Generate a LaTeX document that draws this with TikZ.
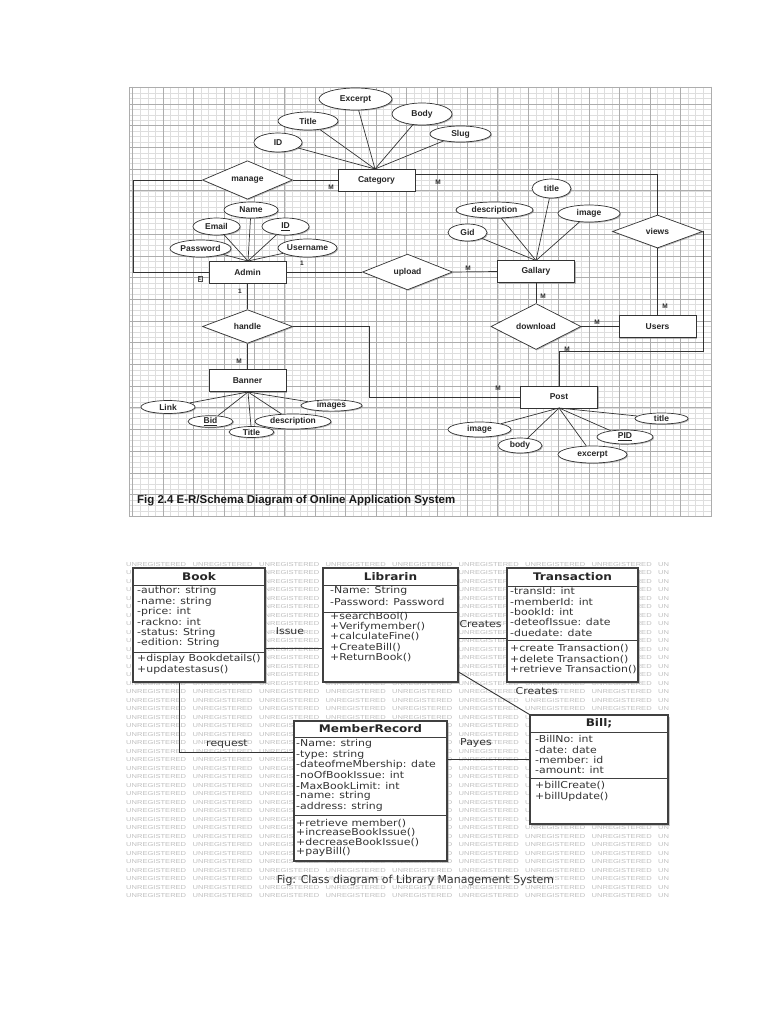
\documentclass[tikz,border=0pt]{standalone}
\usepackage{fontspec}
\setmainfont{Liberation Sans}
\newfontfamily\cdfont{DejaVu Sans}
\usepackage{graphicx}
\usetikzlibrary{shapes.geometric,shadows}
\newcommand\cdt[1]{\scalebox{1.15}[1]{#1}}
\begin{document}
\begin{tikzpicture}[x=1pt,y=-1pt,
  er/.style={font=\bfseries\fontsize{8.5}{9}\selectfont,text=black!85},
  shad/.style={drop shadow={shadow xshift=1pt,shadow yshift=-1pt,fill=black!45,opacity=0.6}},
  entity/.style={er,shad,draw=black!80,line width=0.8pt,fill=white,minimum width=77pt,minimum height=22pt,inner sep=0pt},
  rel/.style={er,shad,diamond,draw=black!80,line width=0.7pt,fill=white,inner sep=0pt,minimum width=90pt,minimum height=33pt},
  attr/.style={er,shad,ellipse,draw=black!80,line width=0.7pt,fill=white,inner sep=0pt},
  erline/.style={draw=black!80,line width=0.7pt},
  card/.style={font=\bfseries\fontsize{6.5}{7}\selectfont,inner sep=0pt,text=black!85},
  gridminor/.style={draw=black!13,line width=0.5pt},
  gridmajor/.style={draw=black!32,line width=0.7pt},
  cls/.style={draw=black!75,line width=1.1pt,fill=white,inner sep=0pt,drop shadow={shadow xshift=1.5pt,shadow yshift=-1.5pt,fill=black!35,opacity=0.6}},
  cdiv/.style={draw=black!75,line width=1pt},
  ctx/.style={font=\cdfont\fontsize{9.5}{10}\selectfont,text=black!80,anchor=west,inner sep=0pt},
  chd/.style={font=\cdfont\bfseries\fontsize{10.5}{11}\selectfont,text=black!85,inner sep=0pt},
  cline/.style={draw=black!80,line width=0.9pt},
  clab/.style={font=\cdfont\fontsize{9.5}{10}\selectfont,text=black!80,inner sep=0pt},
  wm/.style={text=black!25,inner sep=0pt,anchor=west}
]
\fill[white] (0,0) rectangle (768,1024);
\useasboundingbox (0,0) rectangle (768,1024);

% ---------- grid of ER diagram ----------
\foreach \k in {-4,...,72} \draw[gridminor] ({163+7.61*\k},87) -- ({163+7.61*\k},516);
\foreach \k in {-3,...,75} \draw[gridminor] (129,{104+5.425*\k}) -- (711,{104+5.425*\k});
\foreach \k in {-1,...,18} \draw[gridmajor] ({163+30.44*\k},87) -- ({163+30.44*\k},516);
\foreach \k in {0,...,18} \draw[gridmajor] (129,{104+21.7*\k}) -- (711,{104+21.7*\k});
\draw[gridmajor] (129,87) rectangle (711,516);

% ---------- entities ----------
\node[entity] (cat) at (376.5,180) {Category};
\node[entity] (admin) at (247.5,272) {Admin};
\node[entity] (gal) at (536,271.5) {Gallary};
\node[entity] (banner) at (247.5,380.5) {Banner};
\node[entity] (post) at (559,397) {Post};
\node[entity] (users) at (657.5,326.5) {Users};

% ---------- relationships ----------
\node[rel] (manage) at (247.5,180) {manage};
\node[rel] (upload) at (407.5,272) {upload};
\node[rel] (handle) at (247.5,326.5) {handle};
\node[rel] (download) at (536,326.5) {download};
\node[rel] (views) at (657.5,231.5) {views};

% ---------- attributes ----------
\node[attr,minimum width=73pt,minimum height=22pt] (cexc) at (355.5,99) {Excerpt};
\node[attr,minimum width=60pt,minimum height=18pt] (ctit) at (308,121) {Title};
\node[attr,minimum width=48pt,minimum height=19pt] (cid) at (278,142.5) {ID};
\node[attr,minimum width=60pt,minimum height=22pt] (cbod) at (422,114) {Body};
\node[attr,minimum width=61pt,minimum height=16pt] (cslug) at (460.5,134) {Slug};

\node[attr,minimum width=54pt,minimum height=16pt] (aname) at (251,210) {Name};
\node[attr,minimum width=47pt,minimum height=17pt] (aemail) at (216.5,226.5) {Email};
\node[attr,minimum width=47pt,minimum height=17pt] (aid) at (285.5,226.5) {\underline{ID}};
\node[attr,minimum width=61pt,minimum height=17pt] (apass) at (200.5,248.5) {Password};
\node[attr,minimum width=59pt,minimum height=18pt] (auser) at (307.5,248) {Username};

\node[attr,minimum width=39pt,minimum height=19pt] (gtit) at (551.5,188.5) {title};
\node[attr,minimum width=77pt,minimum height=16pt] (gdesc) at (494.5,210) {description};
\node[attr,minimum width=62pt,minimum height=17pt] (gimg) at (589,213.5) {image};
\node[attr,minimum width=39pt,minimum height=17pt] (gid) at (467.5,232.5) {Gid};

\node[attr,minimum width=54pt,minimum height=13pt] (blink) at (168,407) {Link};
\node[attr,minimum width=45pt,minimum height=11pt] (bbid) at (210.5,421.5) {\underline{Bid}};
\node[attr,minimum width=45pt,minimum height=11pt] (btit) at (251.5,432) {Title};
\node[attr,minimum width=76pt,minimum height=15pt] (bdesc) at (293,421.5) {description};
\node[attr,minimum width=61pt,minimum height=11pt] (bimg) at (331.5,405.5) {images};

\node[attr,minimum width=53pt,minimum height=11pt] (ptit) at (661.5,418.5) {title};
\node[attr,minimum width=63pt,minimum height=15pt] (pimg) at (479.5,429.5) {image};
\node[attr,minimum width=44pt,minimum height=15pt] (pbody) at (520,445.5) {body};
\node[attr,minimum width=56pt,minimum height=14pt] (ppid) at (625,437) {\underline{PID}};
\node[attr,minimum width=69pt,minimum height=17pt] (pexc) at (592.5,454.5) {excerpt};

% convergence points
\coordinate (catc) at (375,169);
\coordinate (admc) at (248,261);
\coordinate (galc) at (536,260.5);
\coordinate (banc) at (248,392);
\coordinate (postc) at (559,408);

\foreach \a in {cexc,ctit,cid,cbod,cslug} \draw[erline] (\a) -- (catc);
\foreach \a in {aname,aemail,aid,apass,auser} \draw[erline] (\a) -- (admc);
\foreach \a in {gtit,gdesc,gimg,gid} \draw[erline] (\a) -- (galc);
\foreach \a in {blink,bbid,btit,bdesc,bimg} \draw[erline] (\a) -- (banc);
\foreach \a in {ptit,pimg,pbody,ppid,pexc} \draw[erline] (\a) -- (postc);

% ---------- relationship connectors ----------
\coordinate (ml) at (133,180);
\coordinate (hr) at (369,326.5);
\coordinate (vt) at (657.5,174);
\coordinate (vr) at (703,351);
\draw[erline] (manage.east) -- (cat.west);
\draw[erline] (manage.west) -- (ml) |- (admin.west);
\draw[erline] (admin.east) -- (upload.west);
\draw[erline] (upload.east) -- (gal.west);
\draw[erline] (admin.south) -- (handle.north);
\draw[erline] (handle.south) -- (banner.north);
\draw[erline] (handle.east) -- (hr) |- (post.west);
\draw[erline] (gal.south) -- (download.north);
\draw[erline] (download.east) -- (users.west);
\draw[erline] (cat.east |- vt) -- (vt) -- (views.north);
\draw[erline] (views.south) -- (users.north);
\draw[erline] (views.east) |- (post.north |- vr) -- (post.north);

% ---------- cardinalities ----------
\node[card] (c1) at (331,187) {M};
\node[card,draw=black!70,line width=0.4pt,inner sep=0.6pt,font=\fontsize{5.5}{6}\selectfont] (c2) at (200,279) {1};
\node[card] (c3) at (302,263) {1};
\node[card] (c4) at (468,268) {M};
\node[card] (c5) at (240,291) {1};
\node[card] (c6) at (239,361) {M};
\node[card] (c7) at (498,388) {M};
\node[card] (c8) at (543,296) {M};
\node[card] (c9) at (597,322) {M};
\node[card] (c10) at (438,182) {M};
\node[card] (c11) at (665,306) {M};
\node[card] (c12) at (567,349) {M};

\node[anchor=west,inner sep=0pt,text=black!90] (ertitle) at (137,501) {\resizebox{318pt}{!}{\bfseries Fig 2.4 E-R/Schema Diagram of Online Application System}};

% ---------- watermark of class diagram ----------
\begin{scope}
\clip (120,562) rectangle (668,900);
\foreach \k in {0,...,40}{\foreach \j in {0,...,8}{
  \node[wm] at ({126+66.5*\j},{564.5+8.5*\k}) {\resizebox{60pt}{4pt}{UNREGISTERED}};}}
\end{scope}

% ---------- classes ----------
% Book
\node[cls,minimum width=132pt,minimum height=114pt] (book) at (199,625) {};
\draw[cdiv] (book.west |- 0,585) -- (book.east |- 0,585);
\draw[cdiv] (book.west |- 0,652) -- (book.east |- 0,652);
\node[chd] (bookh) at (199,576.5) {\cdt{Book}};
\foreach \yy/\lab in {591/-author: string,601.5/-name: string,612/-price: int,622.3/-rackno: int,632.7/-status: String,643.2/-edition: String,659.3/+display Bookdetails(),670/+updatestasus()}
  \node[ctx] at (137,\yy) {\cdt{\lab}};

% Librarin
\node[cls,minimum width=135pt,minimum height=114pt] (lib) at (390.5,625) {};
\draw[cdiv] (lib.west |- 0,585) -- (lib.east |- 0,585);
\draw[cdiv] (lib.west |- 0,612) -- (lib.east |- 0,612);
\node[chd] (libh) at (390.5,576.5) {\cdt{Librarin}};
\foreach \yy/\lab in {591/-Name: String,601.7/-Password: Password,616.7/+searchBool(),626.9/+Verifymember(),637/+calculateFine(),647.5/+CreateBill(),657.7/+ReturnBook()}
  \node[ctx] at (330,\yy) {\cdt{\lab}};

% Transaction
\node[cls,minimum width=131pt,minimum height=114pt] (trans) at (572.5,625) {};
\draw[cdiv] (trans.west |- 0,586) -- (trans.east |- 0,586);
\draw[cdiv] (trans.west |- 0,640) -- (trans.east |- 0,640);
\node[chd] (transh) at (572.5,576.5) {\cdt{Transaction}};
\foreach \yy/\lab in {591/-transId: int,601.5/-memberId: int,612/-bookId: int,622.4/-deteofIssue: date,632.8/-duedate: date,649/+create Transaction(),659.2/+delete Transaction(),669.4/+retrieve Transaction()}
  \node[ctx] at (510,\yy) {\cdt{\lab}};

% Bill;
\node[cls,minimum width=138pt,minimum height=109pt] (bill) at (599,769.5) {};
\draw[cdiv] (bill.west |- 0,732) -- (bill.east |- 0,732);
\draw[cdiv] (bill.west |- 0,778) -- (bill.east |- 0,778);
\node[chd] (billh) at (599,723) {\cdt{Bill;}};
\foreach \yy/\lab in {739.3/-BillNo: int,749.7/-date: date,759.9/-member: id,770/-amount: int,786/+billCreate(),796.5/+billUpdate()}
  \node[ctx] at (535,\yy) {\cdt{\lab}};

% MemberRecord
\node[cls,minimum width=153pt,minimum height=140pt] (mem) at (370.5,791) {};
\draw[cdiv] (mem.west |- 0,737) -- (mem.east |- 0,737);
\draw[cdiv] (mem.west |- 0,815) -- (mem.east |- 0,815);
\node[chd] (memh) at (370.5,729) {\cdt{MemberRecord}};
\foreach \yy/\lab in {744.3/-Name: string,754.5/-type: string,764.6/-dateofmeMbership: date,775/-noOfBookIssue: int,785.5/-MaxBookLimit: int,796.2/-name: string,806.6/-address: string,823.3/+retrieve member(),832.9/+increaseBookIssue(),842.5/+decreaseBookIssue(),852.3/+payBill()}
  \node[ctx] at (296,\yy) {\cdt{\lab}};

% ---------- class connectors ----------
\draw[cline] (book.east |- 0,648) -- (lib.west |- 0,648);
\draw[cline] (lib.east |- 0,638) -- (trans.west |- 0,638);
\draw[cline] (lib.east |- 0,672) -- (bill.north west);
\draw[cline] (book.south -| 179,0) |- (mem.west |- 0,752);
\draw[cline] (mem.east |- 0,759) -- (bill.west |- 0,759);

\node[clab] (l1) at (290,631) {\cdt{Issue}};
\node[clab] (l2) at (480.5,624.3) {\cdt{Creates}};
\node[clab] (l3) at (536.7,691) {\cdt{Creates}};
\node[clab] (l4) at (227,744) {\cdt{request}};
\node[clab] (l5) at (476,743.3) {\cdt{Payes}};

\node[inner sep=0pt,text=black!80] (cap) at (415.5,880) {\resizebox{277pt}{!}{\cdfont Fig: Class diagram of Library Management System}};
\end{tikzpicture}
\end{document}
